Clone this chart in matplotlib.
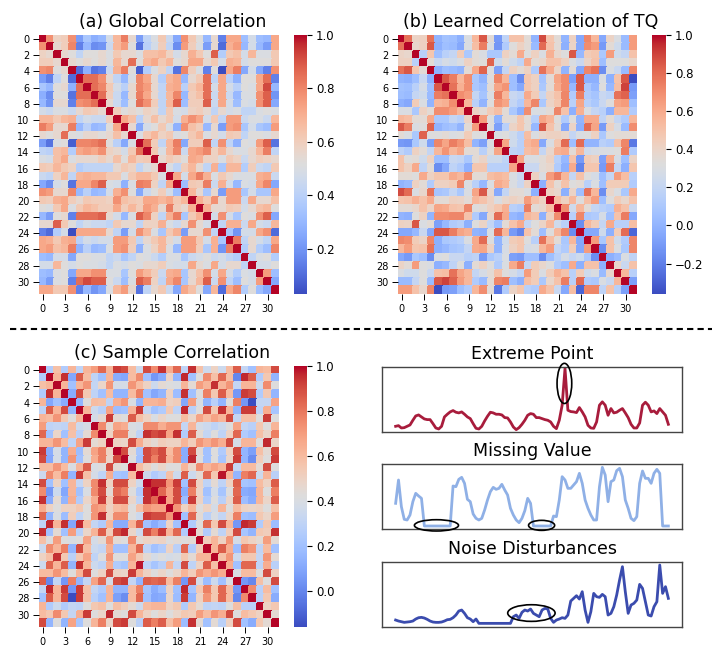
import numpy as np
import matplotlib
matplotlib.use("Agg")
import matplotlib.pyplot as plt
from matplotlib.patches import Ellipse
from matplotlib.lines import Line2D

# upper triangles of the correlation matrices
global_upper = [
    [.78,.58,.6,.78,.22,.35,.27,.3,.48,.68,.82,.55,.22,.42,.5,.62,.45,.25,.78,.62,.52,.3,.55,.15,.72,.72,.32,.48,.32,.3,.72],
    [.55,.6,.8,.15,.3,.18,.2,.45,.68,.75,.52,.12,.4,.48,.6,.42,.18,.75,.6,.5,.22,.55,.1,.7,.75,.3,.48,.3,.22,.72],
    [.55,.52,.42,.52,.52,.55,.5,.62,.55,.55,.5,.65,.65,.68,.58,.48,.55,.7,.62,.52,.88,.38,.62,.65,.48,.68,.5,.5,.62],
    [.55,.52,.55,.52,.55,.5,.68,.55,.85,.52,.68,.72,.62,.68,.52,.55,.72,.72,.55,.62,.48,.7,.68,.48,.52,.52,.52,.62],
    [.1,.28,.12,.15,.45,.7,.82,.52,.07,.38,.5,.58,.42,.12,.8,.6,.5,.15,.52,.03,.72,.82,.25,.48,.25,.15,.78],
    [.85,.85,.78,.55,.42,.3,.5,.8,.72,.55,.38,.68,.72,.3,.55,.62,.85,.42,.72,.4,.28,.52,.52,.72,.85,.15],
    [.85,.8,.62,.48,.4,.55,.8,.75,.55,.42,.7,.72,.4,.62,.68,.85,.48,.72,.48,.4,.52,.5,.72,.92,.3],
    [.85,.6,.45,.3,.55,.82,.72,.55,.42,.68,.8,.3,.6,.65,.85,.45,.72,.45,.3,.5,.5,.78,.88,.2],
    [.55,.45,.32,.52,.85,.78,.6,.42,.68,.88,.32,.6,.6,.88,.45,.72,.48,.32,.5,.48,.78,.88,.25],
    [.6,.52,.55,.52,.58,.55,.42,.62,.5,.48,.58,.6,.55,.42,.55,.48,.5,.42,.42,.5,.52,.5],
    [.72,.65,.4,.55,.65,.55,.62,.48,.7,.78,.72,.48,.62,.42,.75,.75,.45,.5,.5,.45,.68],
    [.55,.25,.48,.52,.62,.5,.28,.78,.65,.6,.3,.55,.22,.75,.78,.35,.48,.35,.32,.75],
    [.5,.62,.68,.58,.62,.5,.52,.62,.68,.5,.55,.48,.62,.6,.42,.52,.52,.5,.55],
    [.85,.6,.42,.68,.82,.25,.6,.6,.88,.42,.78,.42,.28,.52,.5,.75,.88,.12],
    [.62,.5,.68,.8,.45,.72,.75,.8,.58,.68,.55,.5,.5,.55,.68,.82,.42],
    [.55,.62,.58,.52,.72,.7,.58,.58,.5,.62,.58,.45,.55,.6,.58,.55],
    [.5,.42,.6,.68,.55,.42,.7,.35,.68,.68,.38,.6,.45,.42,.62],
    [.72,.48,.72,.82,.7,.5,.62,.55,.5,.5,.5,.7,.72,.45],
    [.32,.62,.6,.82,.45,.7,.48,.3,.5,.48,.72,.8,.25],
    [.68,.55,.35,.55,.22,.75,.75,.35,.48,.35,.35,.72],
    [.7,.62,.78,.55,.75,.75,.45,.72,.55,.55,.65],
    [.7,.55,.55,.62,.6,.48,.55,.65,.68,.52],
    [.48,.78,.48,.35,.52,.5,.78,.88,.25],
    [.42,.7,.7,.45,.72,.48,.45,.68],
    [.35,.2,.48,.48,.72,.78,.1],
    [.82,.42,.55,.48,.42,.72],
    [.38,.55,.38,.32,.8],
    [.42,.5,.52,.38],
    [.48,.48,.52],
    [.75,.32],
    [.25],
]

learned_upper = [
    [.78,.4,.42,.78,0,.07,.05,-.02,.3,.55,.85,.35,-.1,.18,.5,.5,.35,0,.88,.48,.35,0,.42,-.05,.72,.55,-.05,.4,.3,.03,.65],
    [.38,.42,.85,-.02,.05,.03,-.05,.3,.52,.75,.3,-.12,.12,.33,.42,.35,.03,.8,.5,.35,-.02,.4,-.05,.7,.65,-.1,.35,.25,.03,.65],
    [.15,.48,.05,.15,.2,.45,.1,.35,.3,.1,.1,.42,.35,.6,.32,.42,.3,.58,.38,.32,.85,.02,.45,.48,.1,.65,.25,.2,.5],
    [.35,.22,.28,.25,.3,.42,.35,.33,.82,.25,.35,.25,.18,.6,.35,.38,.5,.5,.42,.3,.22,.4,.5,.05,.32,.32,.32,.38],
    [-.02,.05,.03,0,.35,.6,.82,.32,-.08,.2,.42,.35,.42,.12,.78,.6,.4,0,.35,-.05,.72,.78,-.15,.3,.22,.03,.72],
    [.85,.75,.55,.7,.1,0,.32,.72,.55,.05,-.15,.48,.42,.08,.35,.62,.7,-.08,.85,-.02,-.02,.3,-.02,.5,.85,-.36],
    [.78,.58,.7,.1,.05,.35,.62,.68,.05,-.05,.48,.42,.1,.35,.6,.7,.02,.85,.1,.02,.32,.02,.52,.9,-.1],
    [.7,.65,.2,.08,.3,.75,.55,.22,.18,.6,.45,.2,.42,.5,.72,.12,.75,.12,.08,.22,.18,.78,.82,-.08],
    [.55,.15,0,.32,.68,.62,.2,.12,.55,.72,.1,.4,.48,.72,.15,.62,.15,.1,.22,.32,.62,.65,.05],
    [.4,.35,.45,.52,.35,.1,-.02,.7,.3,.3,.35,.72,.5,-.02,.58,.3,.2,.15,-.02,.55,.55,.12],
    [.65,.32,0,.35,.35,.48,.35,.15,.62,.55,.32,.12,.32,0,.6,.6,.18,.35,.2,.12,.55],
    [.32,-.08,.15,.4,.48,.35,.02,.85,.5,.35,-.05,.4,-.02,.8,.62,-.1,.42,.28,.03,.7],
    [.3,.32,.25,.15,.52,.3,.38,.42,.42,.38,.2,.3,.32,.42,.1,.32,.35,.35,.35],
    [.62,.25,.15,.55,.6,-.05,.3,.48,.8,.05,.8,0,0,.15,.12,.5,.72,-.22],
    [.18,.15,.52,.55,.2,.38,.58,.6,.35,.55,.25,.28,.3,.3,.32,.75,.12],
    [.62,.3,.3,.35,.42,.15,.02,.5,-.1,.45,.42,-.08,.6,.28,.05,.4],
    [.22,.22,.35,.38,.12,-.02,.6,-.18,.48,.48,-.1,.75,.2,-.02,.48],
    [.42,.3,.65,.75,.55,.2,.5,.32,.28,.05,.2,.65,.52,.15],
    [-.02,.5,.35,.5,.32,.35,.15,.3,.05,.45,.45,.45,.12],
    [.42,.38,-.02,.4,.05,.78,.55,-.15,.38,.3,.1,.6],
    [.52,.42,.55,.32,.52,.65,.05,.32,.45,.38,.5],
    [.7,.25,.55,.35,.2,.15,.12,.58,.5,.22],
    [.15,.72,.1,.12,.28,.05,.5,.75,-.05],
    [-.15,.55,.45,.2,.6,.15,.15,.52],
    [-.05,-.05,.25,-.02,.45,.8,-.28],
    [.65,.1,.5,.25,.12,.72],
    [-.15,.5,.3,.1,.72],
    [-.02,.03,.3,.18],
    [.38,.22,.5],
    [.55,.15],
    [-.08],
]

sample_upper = [
    [.25,.58,.25,.62,.3,.62,.7,.84,.62,.93,.9,.6,.35,.9,.75,.95,.65,.84,.3,.95,.58,.35,.5,.35,.6,.86,.32,.2,.62,.6,.9],
    [.62,.95,.1,.86,.6,.3,.2,.62,.12,.1,.6,.75,.2,.05,.12,.5,.15,.96,.2,.42,.75,.58,.84,.6,0,.96,.86,.25,.55,.15],
    [.62,.2,.62,.72,.32,.48,.72,.38,.38,.72,.6,.5,.35,.45,.42,.4,.62,.45,.7,.62,.95,.62,.72,.32,.62,.62,.35,.75,.42],
    [.12,.9,.55,.3,.2,.6,.15,.15,.6,.78,.2,.1,.15,.5,.18,.95,.2,.42,.78,.55,.86,.6,.05,.93,.9,.25,.55,.15],
    [.15,.42,.6,.58,.3,.65,.72,.4,.15,.62,.62,.65,.5,.52,.1,.7,.4,.15,.28,.15,.42,.78,.05,-.16,.32,.32,.68],
    [.62,.35,.28,.68,.18,.2,.62,.93,.32,.2,.25,.55,.3,.96,.28,.42,.9,.55,.95,.62,.15,.93,.93,.3,.65,.22],
    [.38,.45,.93,.45,.42,.86,.58,.5,.4,.48,.42,.42,.6,.48,.68,.6,.68,.62,.9,.32,.58,.58,.42,.93,.42],
    [.75,.45,.68,.65,.4,.38,.75,.75,.65,.72,.72,.32,.62,.38,.35,.3,.35,.42,.68,.32,.28,.55,.42,.62],
    [.5,.78,.78,.42,.3,.95,.9,.93,.68,.95,.25,.86,.45,.32,.42,.3,.5,.84,.25,.2,.58,.48,.78],
    [.5,.48,.9,.65,.5,.45,.52,.5,.5,.62,.52,.72,.65,.72,.65,.9,.38,.62,.62,.42,.96,.48],
    [.9,.45,.22,.9,.84,.9,.6,.75,.12,.9,.45,.2,.42,.25,.5,.9,.15,.08,.58,.45,.9],
    [.42,.2,.9,.78,.9,.62,.75,.12,.96,.42,.2,.42,.22,.48,.93,.15,.02,.52,.42,.93],
    [.6,.5,.42,.48,.42,.42,.62,.48,.75,.62,.68,.62,.93,.32,.6,.6,.45,.9,.42],
    [.35,.25,.3,.58,.35,.86,.35,.45,.84,.55,.98,.62,.15,.78,.84,.35,.62,.28],
    [.95,.95,.72,.93,.2,.9,.5,.3,.45,.3,.5,.86,.22,.2,.6,.5,.86],
    [.84,.68,.9,.12,.78,.48,.2,.38,.22,.42,.84,.12,.1,.62,.42,.78],
    [.68,.9,.18,.93,.5,.25,.42,.28,.48,.86,.18,.12,.62,.48,.86],
    [.72,.5,.62,.42,.5,.38,.62,.42,.6,.5,.48,.5,.42,.58],
    [.2,.84,.45,.28,.4,.32,.48,.78,.2,.18,.55,.48,.7],
    [.25,.42,.84,.55,.9,.62,.05,.96,.93,.25,.55,.18],
    [.45,.25,.45,.3,.52,.9,.22,.15,.55,.52,.95],
    [.52,.62,.5,.72,.38,.55,.5,.45,.7,.45],
    [.62,.86,.65,.18,.78,.72,.3,.6,.2],
    [.58,.72,.35,.55,.55,.32,.72,.45],
    [.65,.2,.84,.84,.3,.65,.28],
    [.4,.6,.6,.42,.9,.5],
    [.05,0,.58,.42,.9],
    [.75,.28,.6,.2],
    [.28,.55,.12],
    [.5,.55],
    [.45],
]

# the three small series, height above the bottom of the box
extreme_vals = [17,19,12,13,17,21,35,48,51,45,39,37,37,25,12,9,17,45,53,60,
                64,59,57,60,53,45,40,25,11,9,17,33,47,59,57,53,53,51,43,42,
                30,15,7,13,23,35,50,55,53,43,43,40,37,35,30,17,10,35,80,190,
                65,61,60,58,73,60,45,20,12,11,30,80,90,80,50,70,57,59,65,70,
                57,43,23,12,12,27,80,89,80,60,63,55,70,60,50,23]
missing_vals = [77,147,67,29,27,42,82,107,99,92,9,9,9,9,9,9,9,9,9,9,
                129,127,149,155,137,89,82,45,32,27,32,57,87,112,125,119,122,134,117,102,
                62,42,27,19,32,55,92,77,9,9,9,9,9,9,9,39,37,87,157,147,
                122,122,132,142,167,137,87,62,42,27,27,127,185,162,82,142,147,175,182,157,
                87,62,32,25,37,137,174,152,152,137,167,179,167,9,9,9]
noise_vals = [20,17,15,13,14,15,17,23,27,28,26,22,17,14,13,13,14,17,21,22,
              27,35,47,50,40,27,23,15,23,10,10,10,10,10,10,10,10,10,10,10,
              10,30,35,25,43,50,47,53,40,35,30,50,55,53,25,13,20,23,27,25,
              35,77,85,93,83,105,50,13,45,100,90,88,97,90,35,40,60,95,140,180,
              105,40,65,70,80,127,115,75,35,32,60,75,185,100,120,85]

W, H = 718, 658
DPI = 100


def sym(upper):
    n = len(upper) + 1
    m = np.eye(n)
    for i, row in enumerate(upper):
        m[i, i + 1:] = row
        m[i + 1:, i] = row
    return m


def box(x0, y0, x1, y1):
    # pixel box (y from the top) to figure fractions
    return [x0 / W, 1 - y1 / H, (x1 - x0) / W, (y1 - y0) / H]


fig = plt.figure(figsize=(W / DPI, H / DPI), dpi=DPI)


def heat(matrix, ax_box, cbar_box, title, cticks, title_x):
    ax = fig.add_axes(box(*ax_box))
    cax = fig.add_axes(box(*cbar_box))
    mesh = ax.pcolormesh(matrix, cmap="coolwarm", vmin=matrix.min(), vmax=matrix.max(),
                         edgecolors="face", linewidth=0.1)
    ax.set_xlim(0, 32)
    ax.set_ylim(32, 0)
    ax.set_xticks(np.arange(0, 32, 3) + 0.5)
    ax.set_xticklabels(range(0, 32, 3))
    ax.set_yticks(np.arange(0, 32, 2) + 0.5)
    ax.set_yticklabels(range(0, 32, 2))
    ax.tick_params(labelsize=7, length=4, width=0.7, pad=3)
    for s in ax.spines.values():
        s.set_visible(False)
    cb = fig.colorbar(mesh, cax=cax)
    cb.outline.set_visible(False)
    cb.set_ticks(cticks)
    cb.ax.tick_params(labelsize=8.5, length=3.5, width=0.8, pad=3)
    fig.text(title_x / W, 1 - (ax_box[1] - 8) / H, title, fontsize=12.5, ha="center", va="baseline")


heat(sym(global_upper), (39, 35, 279, 294), (294, 35, 307, 294),
     "(a) Global Correlation", [0.2, 0.4, 0.6, 0.8, 1.0], 173)
heat(sym(learned_upper), (398, 35, 637, 294), (652, 35, 666, 294),
     "(b) Learned Correlation of TQ", [-0.2, 0, 0.2, 0.4, 0.6, 0.8, 1.0], 531)
heat(sym(sample_upper), (39, 366, 279, 627), (294, 366, 307, 627),
     "(c) Sample Correlation", [0, 0.2, 0.4, 0.6, 0.8, 1.0], 172)


def small(vals, color, y0, y1, title, ellipses):
    ax = fig.add_axes(box(382, y0, 682, y1))
    ax.plot(range(len(vals)), vals, color=color, linewidth=2.0)
    ax.set_xlim(-4.75, 99.75)
    ax.set_ylim(0, 195)
    ax.set_xticks([])
    ax.set_yticks([])
    for s in ax.spines.values():
        s.set_color("#444444")
        s.set_linewidth(1.0)
    ax.set_title(title, fontsize=12.5, pad=5.5)
    for cx, cy, w, h in ellipses:
        ax.add_patch(Ellipse((cx, cy), w, h, transform=ax.transAxes, fill=False,
                             edgecolor="black", linewidth=1.2, clip_on=False, zorder=5))


small(extreme_vals, "#a81c3c", 366.7, 432, "Extreme Point", [(.608, .744, .049, .615)])
small(missing_vals, "#8fb0e6", 464, 529, "Missing Value",
      [(.1815, .056, .147, .174), (.532, .056, .087, .154)])
small(noise_vals, "#3b4cae", 561.7, 626.7, "Noise Disturbances", [(.498, .21, .158, .256)])

# dashed separator between the two rows
fig.add_artist(Line2D([10 / W, 712 / W], [1 - 329 / H, 1 - 329 / H], color="black",
                      linewidth=1.5, linestyle=(0, (3, 2))))

fig.savefig("out.png", dpi=DPI)
